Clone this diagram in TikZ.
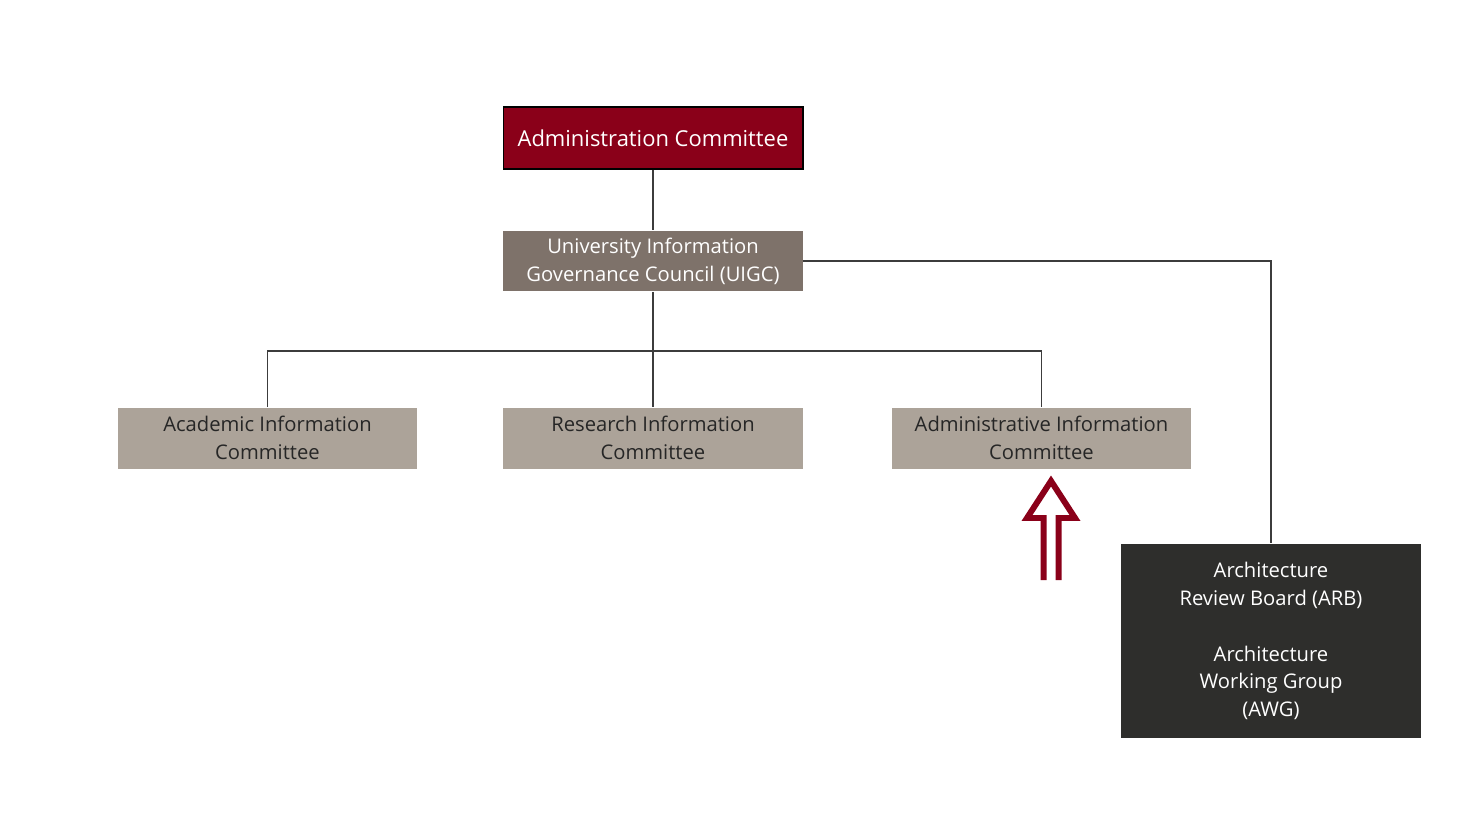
\documentclass[tikz,border=0pt]{standalone}
\usepackage{fontspec}
\setmainfont{Open Sans}
\usepackage{xcolor}
\usetikzlibrary{calc}
\definecolor{uored}{HTML}{8A0019}
\definecolor{councilgray}{HTML}{7E726A}
\definecolor{cmtgray}{HTML}{ACA399}
\definecolor{boardgray}{HTML}{2E2E2C}
\definecolor{linkgray}{HTML}{3C3C3C}
\tikzset{
  topbox/.style={draw=black, line width=0.6pt, fill=uored, text=white,
    minimum width=6cm, minimum height=1.24cm, align=center,
    font=\fontsize{12.5}{16}\selectfont},
  councilbox/.style={fill=councilgray, text=white, minimum width=6cm,
    minimum height=1.22cm, align=center, font=\fontsize{11.5}{15.9}\selectfont},
  cmtbox/.style={fill=cmtgray, text=black!85, minimum width=6cm,
    minimum height=1.22cm, align=center, font=\fontsize{11.5}{15.9}\selectfont},
  boardbox/.style={fill=boardgray, text=white, minimum width=6cm,
    minimum height=3.9cm, align=center, font=\fontsize{11.5}{15.9}\selectfont},
  link/.style={draw=linkgray, line width=0.9pt},
}
\begin{document}
\begin{tikzpicture}[x=0.02cm, y=-0.02cm]
      % page frame, 1470 x 835 px
      \useasboundingbox (0,0) rectangle (1470,835);
      % boxes
      \node[topbox] (admin) at (653,138) {Administration Committee};
      \node[councilbox] (uigc) at (653,261) {University Information\\Governance Council (UIGC)};
      \node[cmtbox] (acad) at (267.5,438) {Academic Information\\Committee};
      \node[cmtbox] (res) at (653,438) {Research Information\\Committee};
      \node[cmtbox] (adm) at (1041.5,438) {Administrative Information\\Committee};
      \node[boardbox] (arb) at (1271,641) {Architecture\\Review Board (ARB)\\[15.9pt]Architecture\\Working Group\\(AWG)};
      % links
      \coordinate (bus) at (653,351);
      \draw[link] (admin) -- (uigc);
      \draw[link] (uigc) -- (res);
      \draw[link] (acad.north) -- (acad.north |- bus) -- (adm.north |- bus) -- (adm.north);
      \draw[link] (uigc.east) -| (arb.north);
      % hollow arrow under the administrative committee
      \coordinate (tip) at (1051,481);
      \coordinate (foot) at (1051,580);
      \draw[uored, line width=3.4pt, line join=miter]
        ($(foot)+(-7.5,0)$) -- ($(foot)+(-7.5,-62)$) -- ($(foot)+(-24,-62)$)
        -- (tip) -- ($(foot)+(24,-62)$) -- ($(foot)+(7.5,-62)$) -- ($(foot)+(7.5,0)$);
\end{tikzpicture}
\end{document}
